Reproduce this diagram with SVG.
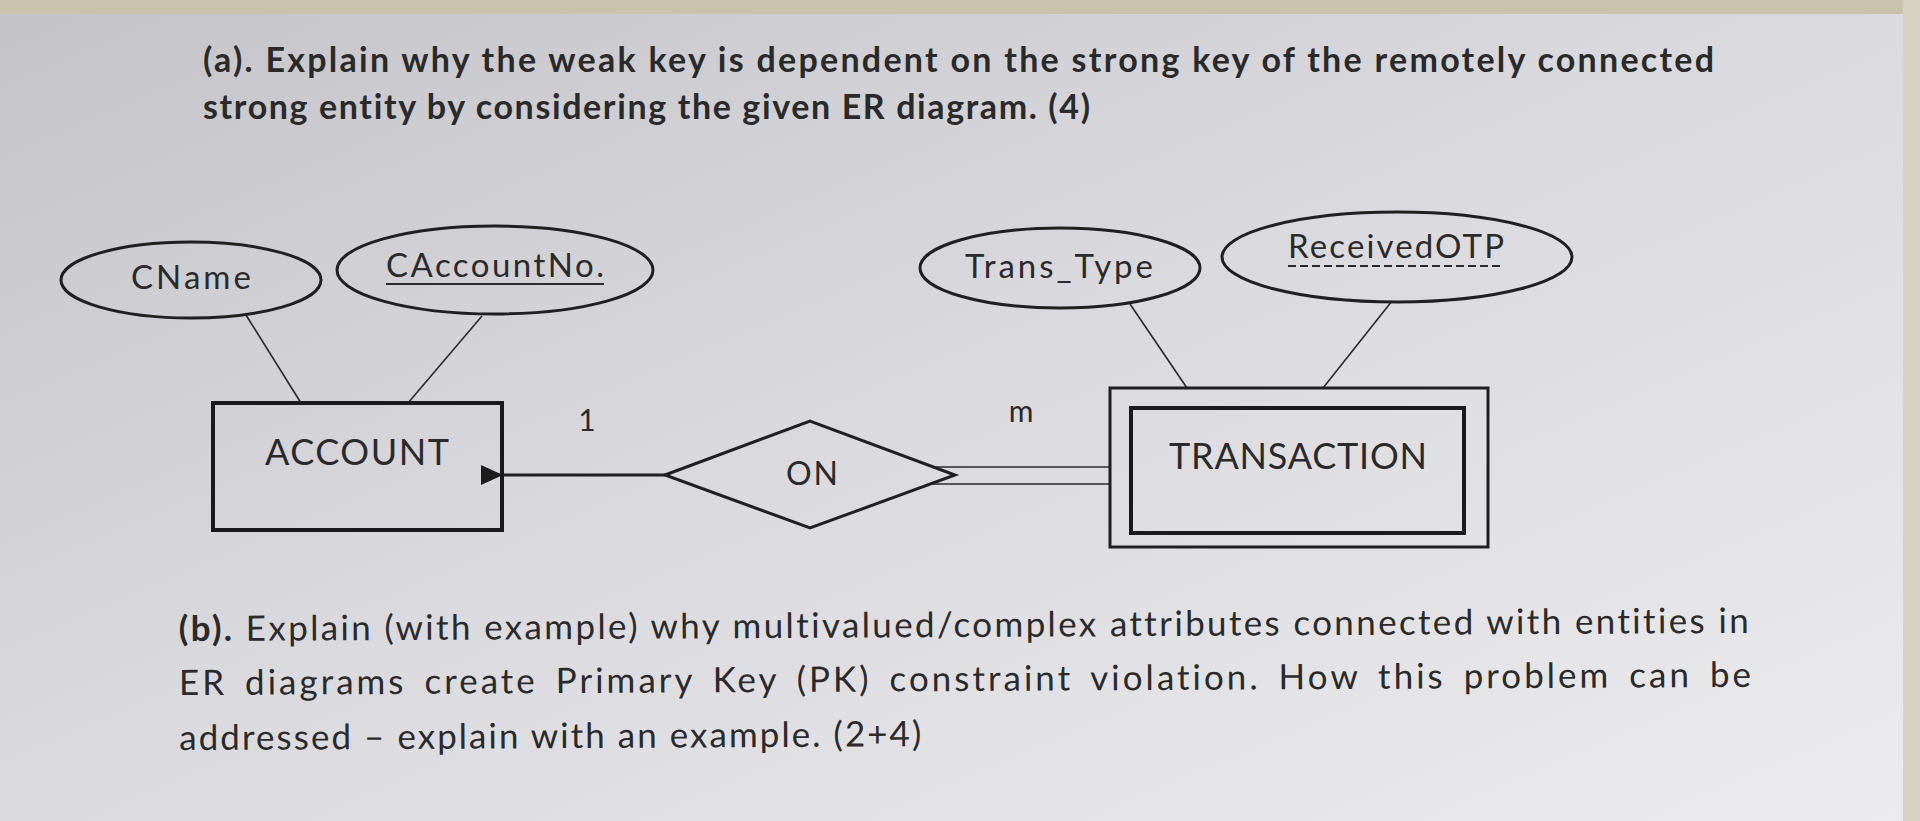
<svg xmlns="http://www.w3.org/2000/svg" width="1920" height="821" viewBox="0 0 1920 821">
  <defs>
    <linearGradient id="bg" x1="0" y1="0" x2="1" y2="1">
      <stop offset="0" stop-color="#c4c4c8"/>
      <stop offset="0.45" stop-color="#d9d9dd"/>
      <stop offset="1" stop-color="#ececee"/>
    </linearGradient>
    <marker id="arrow" viewBox="0 0 22 20" refX="1" refY="10" markerWidth="22" markerHeight="20" markerUnits="userSpaceOnUse" orient="auto-start-reverse">
      <path d="M0,10 L22,0 L22,20 Z" fill="#1c1c1c"/>
    </marker>
    <style>
      text { font-variant-ligatures: none; }
      .q { font-family: Lato, "Open Sans", sans-serif; font-size: 34px; fill: #2a2a2a; }
      .qr { font-size: 35px; }
      .qb { font-weight: bold; }
      .lbl { font-family: Lato, "Open Sans", sans-serif; fill: #2a2a2a; }
      .attr { fill: none; stroke: #1f1f1f; stroke-width: 3; }
      .ent { fill: none; stroke: #1a1a1a; stroke-width: 4; }
      .rel { fill: none; stroke: #1f1f1f; stroke-width: 3; }
      .link { stroke: #2a2a2a; stroke-width: 1.6; fill: none; }
    </style>
  </defs>

  <rect x="0" y="0" width="1920" height="821" fill="url(#bg)"/>
  <rect x="0" y="0" width="1920" height="14" fill="#c9c3ad"/>
  <rect x="1903" y="0" width="17" height="821" fill="#d7d2c1"/>

  <g id="question-a">
    <text class="q qb" x="203" y="72" textLength="1511">(a). Explain why the weak key is dependent on the strong key of the remotely connected</text>
    <text class="q qb" x="203" y="119" textLength="887">strong entity by considering the given ER diagram. (4)</text>
  </g>

  <g id="connectors">
    <line class="link" x1="246" y1="315" x2="301" y2="403"/>
    <line class="link" x1="482" y1="316" x2="408" y2="403"/>
    <line class="link" x1="1130" y1="304" x2="1187" y2="388"/>
    <line class="link" x1="1392" y1="301" x2="1323" y2="388"/>
    <line x1="502" y1="475" x2="665" y2="475" stroke="#1f1f1f" stroke-width="3" marker-start="url(#arrow)"/>
    <line class="link" x1="936" y1="467" x2="1110" y2="467" stroke-width="2"/>
    <line class="link" x1="933" y1="484" x2="1110" y2="484" stroke-width="2"/>
    <text class="lbl" x="587" y="431" font-size="30" text-anchor="middle">1</text>
    <text class="lbl" x="1021" y="422" font-size="30" text-anchor="middle">m</text>
  </g>

  <g id="attr-cname">
    <ellipse class="attr" cx="191" cy="280" rx="130" ry="38"/>
    <text class="lbl" x="191" y="289" font-size="33" text-anchor="middle" textLength="120">CName</text>
  </g>

  <g id="attr-caccountno">
    <ellipse class="attr" cx="495" cy="270" rx="158" ry="44"/>
    <text class="lbl" x="495" y="277" font-size="33" text-anchor="middle" textLength="218">CAccountNo.</text>
    <line x1="386" y1="284" x2="604" y2="284" stroke="#2a2a2a" stroke-width="2"/>
  </g>

  <g id="attr-transtype">
    <ellipse class="attr" cx="1060" cy="268" rx="140" ry="40"/>
    <text class="lbl" x="1059" y="278" font-size="33" text-anchor="middle" textLength="188">Trans_Type</text>
  </g>

  <g id="attr-receivedotp">
    <ellipse class="attr" cx="1397" cy="257" rx="175" ry="45"/>
    <text class="lbl" x="1396" y="258" font-size="33" text-anchor="middle" textLength="216">ReceivedOTP</text>
    <line x1="1288" y1="266" x2="1504" y2="266" stroke="#2a2a2a" stroke-width="2" stroke-dasharray="8,4"/>
  </g>

  <g id="entity-account">
    <rect class="ent" x="213" y="403" width="289" height="127"/>
    <text class="lbl" x="357" y="465" font-size="36" text-anchor="middle" textLength="184">ACCOUNT</text>
  </g>

  <g id="rel-on">
    <polygon class="rel" points="665,475 810,421 955,475 810,528"/>
    <text class="lbl" x="812" y="485" font-size="32" text-anchor="middle" textLength="52">ON</text>
  </g>

  <g id="entity-transaction">
    <rect x="1110" y="388" width="378" height="159" fill="none" stroke="#1f1f1f" stroke-width="3"/>
    <rect class="ent" x="1131" y="408" width="333" height="125" stroke-width="3.5"/>
    <text class="lbl" x="1298" y="469" font-size="36" text-anchor="middle" textLength="258">TRANSACTION</text>
  </g>

  <g id="question-b" transform="rotate(-0.3 960 690)">
    <text class="q qr" x="179" y="637" textLength="1570"><tspan class="qb">(b).</tspan> Explain (with example) why multivalued/complex attributes connected with entities in</text>
    <text class="q qr" x="179" y="691" textLength="1572" word-spacing="6">ER diagrams create Primary Key (PK) constraint violation. How this problem can be</text>
    <text class="q qr" x="179" y="746" textLength="742">addressed – explain with an example. (2+4)</text>
  </g>
</svg>
